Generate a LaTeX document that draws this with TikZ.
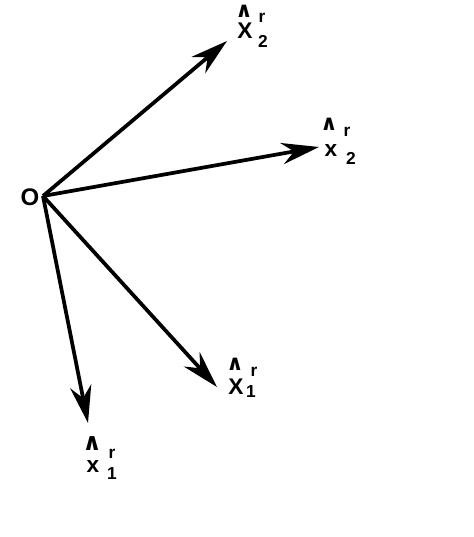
\documentclass[tikz,border=0pt]{standalone}
\usepackage{fontspec}
\setmainfont{Liberation Sans}
\newfontfamily\symf{DejaVu Sans}
\usetikzlibrary{arrows.meta}
\tikzset{
  vec/.style={line width=2.8pt, -{Stealth[length=28pt, width=16pt, inset=9pt]}},
  big/.style={font=\fontsize{17}{19}\selectfont\bfseries, inner sep=0pt},
  sml/.style={font=\fontsize{13}{15}\selectfont\bfseries, inner sep=0pt},
  hat/.style={font=\fontsize{16}{17}\selectfont\symf\bfseries, inner sep=0pt, anchor=base, text depth=0pt},
}
\begin{document}
\begin{tikzpicture}[x=0.75pt,y=-0.75pt]
\useasboundingbox (0,0) rectangle (474,537);
\coordinate (o) at (43,196);
\node[font=\fontsize{18}{20}\selectfont\bfseries, inner sep=0pt] (olab) at (30,197) {O};
\coordinate (a) at (227,41);
\coordinate (b) at (319,147);
\coordinate (c) at (217,387);
\coordinate (d) at (88,423);
\draw[vec] (o) -- (a);
\draw[vec] (o) -- (b);
\draw[vec] (o) -- (c);
\draw[vec] (o) -- (d);
% X2 hat r
\node[big] (aX) at (245,31) {X};
\node[hat] (aH) at (244,17) {∧};
\node[sml] (aR) at (262,18) {r};
\node[sml] (aS) at (263,41) {2};
% x2 hat r
\node[big] (bX) at (331,151) {x};
\node[hat] (bH) at (329,130) {∧};
\node[sml] (bR) at (347,132) {r};
\node[sml] (bS) at (351,158) {2};
% X1 hat r
\node[big] (cX) at (236,387) {X};
\node[hat] (cH) at (235,370) {∧};
\node[sml] (cR) at (254,372) {r};
\node[sml] (cS) at (251,392) {1};
% x1 hat r
\node[big] (dX) at (93,467) {x};
\node[hat,font=\fontsize{18}{19}\selectfont\symf\bfseries] (dH) at (92,450) {∧};
\node[sml] (dR) at (112,454) {r};
\node[sml] (dS) at (112,474) {1};
\end{tikzpicture}
\end{document}
